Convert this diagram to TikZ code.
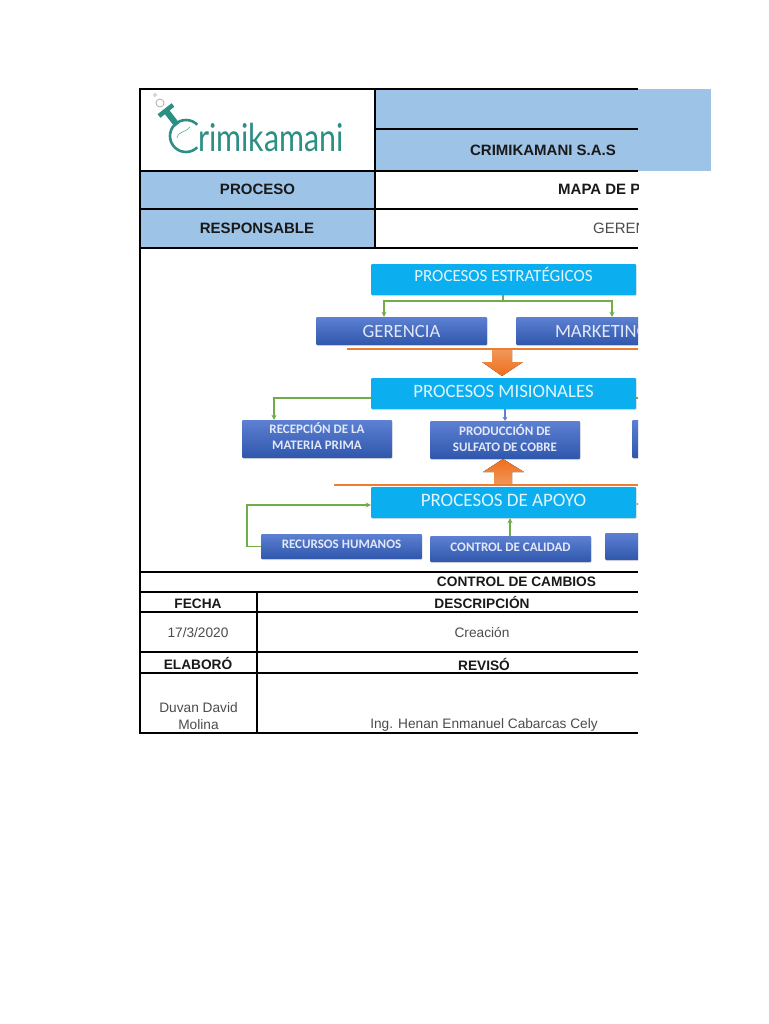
\documentclass[tikz,border=0pt]{standalone}
\usepackage{fontspec}
\setmainfont{Liberation Sans}
\newfontfamily\boxfont{Carlito}
\newfontfamily\logofont{Lato}
\usepackage{tikz}
\usetikzlibrary{arrows.meta,shadows}
\definecolor{headblue}{HTML}{9DC3E6}
\definecolor{skybox}{HTML}{0BAEEE}
\definecolor{boxtop}{HTML}{5D80D2}
\definecolor{boxbot}{HTML}{2F57AC}
\definecolor{greenline}{HTML}{70AD47}
\definecolor{orangeline}{HTML}{ED7D31}
\definecolor{orangedeep}{HTML}{EE6F1C}
\definecolor{logoteal}{HTML}{2C8F84}
\tikzset{
  cellbold/.style={font=\fontsize{13.7}{15}\selectfont\bfseries, text=black!90},
  topbold/.style={font=\fontsize{15}{17}\selectfont\bfseries, text=black!90},
  cellplain/.style={font=\fontsize{13.7}{15}\selectfont, text=black!70, align=center},
  skynode/.style={fill=skybox, text=white!88!skybox, minimum width=265pt, minimum height=31pt, inner sep=0pt, rounded corners=1pt,
    font=\boxfont\fontsize{18.8}{21}\selectfont, text height=10pt, text depth=3pt,
    drop shadow={shadow xshift=0.5pt, shadow yshift=-1pt, opacity=0.25}},
  workbox/.style={top color=boxtop, bottom color=boxbot, draw=none, text=white!82!boxtop, inner sep=0pt, align=center, rounded corners=1pt,
    font=\boxfont\fontsize{18.7}{21}\selectfont, drop shadow={shadow xshift=0.5pt, shadow yshift=-1pt, opacity=0.25}},
  smalltext/.style={font=\boxfont\bfseries\fontsize{13}{16}\selectfont, text=white!82!boxtop, align=center, inner sep=0pt},
  greenpin/.style={draw=greenline, line width=1.5pt, -{Stealth[length=5pt,width=5pt]}},
  bluepin/.style={draw=boxtop, line width=1.2pt, -{Stealth[length=4pt,width=5pt]}},
  heavy/.style={line width=2pt},
  rule/.style={line width=1.4pt},
}
\begin{document}
\begin{tikzpicture}[x=1pt, y=-1pt]
  \useasboundingbox (0,0) rectangle (768,1024);
  \fill[white] (0,0) rectangle (768,1024);
  % blue header cells
  \fill[headblue] (375,89) rectangle (711,171);
  \fill[headblue] (140,171) rectangle (375,248);
  \begin{scope}
    \clip (0,0) rectangle (638,1024);
    % diagram: strategic row
    \node[skynode, font=\boxfont\fontsize{17}{19}\selectfont, text height=9pt, text depth=5.2pt] (estrat) at (503.5,279.5) {PROCESOS ESTRATÉGICOS};
    \node[workbox, minimum width=171pt, minimum height=28pt] (gerencia) at (401.5,331) {GERENCIA};
    \node[workbox, minimum width=171pt, minimum height=28pt, text width=171pt, align=left] (marketing) at (601.5,331) {\hspace{39pt}MARKETING};
    \draw[greenpin] ([xshift=-0.5pt]estrat.south) -- ++(0,6) -| ([xshift=-17.5pt]gerencia.north);
    \draw[greenpin] ([xshift=-0.5pt]estrat.south) -- ++(0,6) -| ([xshift=10.5pt]marketing.north);
    \draw[orangeline, line width=1.8pt] (347,349) -- (638,349);
    \fill[top color=orangeline!80!white, bottom color=orangedeep] (492,350) -- (512,350) -- (512,362) -- (523,362)
      -- (502,376) -- (482,362) -- (492,362) -- cycle;
    % diagram: missional row
    \node[skynode] (misional) at (503.5,393.5) {PROCESOS MISIONALES};
    \node[workbox, minimum width=150pt, minimum height=38pt] (recepcion) at (317,439) {};
    \node[smalltext] (recepciontxt) at ([yshift=2.5pt]recepcion.center) {RECEPCIÓN DE LA\\MATERIA PRIMA};
    \node[workbox, minimum width=150pt, minimum height=38pt] (produccion) at (505,440) {};
    \node[smalltext] (producciontxt) at ([yshift=2pt]produccion.center) {PRODUCCIÓN DE\\SULFATO DE COBRE};
    \node[workbox, minimum width=150pt, minimum height=38pt] (envasado) at (707,439) {};
    \draw[greenpin] ([yshift=-4.5pt]misional.west) -| ([xshift=-43pt]recepcion.north);
    \draw[greenpin] ([yshift=-4.5pt]misional.east) -| (envasado.north);
    \draw[bluepin] ([xshift=1.5pt]misional.south) -- (produccion.north);
    % diagram: support row
    \fill[top color=orangedeep, bottom color=orangeline!80!white] (494,485) -- (512,485) -- (512,472) -- (524,472)
      -- (503,459) -- (483,472) -- (494,472) -- cycle;
    \draw[orangeline, line width=1.6pt] (334,485) -- (638,485);
    \node[skynode, font=\boxfont\fontsize{19}{21}\selectfont] (apoyo) at (503.5,502.5) {PROCESOS DE APOYO};
    \node[workbox, smalltext, minimum width=161pt, minimum height=25pt, text depth=2.8pt, text height=6pt] (recursos) at (341.5,546.5) {RECURSOS HUMANOS};
    \node[workbox, smalltext, minimum width=161pt, minimum height=26pt, text depth=1.8pt, text height=6pt] (calidad) at (510.5,549) {CONTROL DE CALIDAD};
    \node[workbox, minimum width=161pt, minimum height=27pt] (compras) at (685.5,546.5) {};
    \draw[greenpin] (recursos.west) -- ++(-14,0) |- ([yshift=-2.5pt]apoyo.west);
    \draw[greenpin] ([xshift=-0.5pt]calidad.north) -- ([xshift=6.5pt]apoyo.south);
    \draw[greenpin] (compras.north) |- ([yshift=-1.5pt]apoyo.east);
    % table rules
    \foreach \y in {89,171,209,248,612,673}{\draw[rule] (140,\y) -- (638,\y);}
    \foreach \y in {572,592,652}{\draw[heavy] (140,\y) -- (638,\y);}
    \draw[rule] (140,733) -- (638,733);
    \draw[heavy] (375,129) -- (638,129);
    \draw[heavy] (140,88) -- (140,734);
    \draw[heavy] (375,89) -- (375,248);
    \draw[heavy] (257,592) -- (257,733);
    % header texts
    \node[topbold] (empresa) at (543,150) {CRIMIKAMANI S.A.S};
    \node[topbold] (proceso) at (257.5,189) {PROCESO};
    \node[topbold] (responsable) at (257,228) {RESPONSABLE};
    \node[topbold, anchor=west, inner sep=0pt] (mapa) at (558,189) {MAPA DE PROCESOS};
    \node[cellplain, font=\fontsize{15}{17}\selectfont, anchor=west, inner sep=0pt] (gerente) at (593,228) {GERENTE};
    % change control texts
    \node[cellbold] (cambios) at (516.5,582) {CONTROL DE CAMBIOS};
    \node[cellbold] (fecha) at (198,604) {FECHA};
    \node[cellbold] (descripcion) at (482,602) {DESCRIPCIÓN};
    \node[cellplain] (dia) at (198,633) {17/3/2020};
    \node[cellplain] (creacion) at (482,633) {Creación};
    \node[cellbold] (elaboro) at (198,663) {ELABORÓ};
    \node[cellbold] (reviso) at (484,664) {REVISÓ};
    \node[cellplain, font=\fontsize{13.7}{17}\selectfont] (autor) at (198.5,716) {Duvan David\\Molina};
    \node[cellplain] (revisor) at (484,725) {Ing. Henan Enmanuel Cabarcas Cely};
  \end{scope}
  % logo
  \draw[logoteal, line width=2.6pt] (197.3,124.7) arc[start angle=45, end angle=315, radius=16pt];
  \draw[logoteal!70!white, line width=0.7pt] (177,138) .. controls (179,130) and (184,134) .. (190,127);
  \draw[logoteal, line width=4.5pt] (159,116) -- (173,105);
  \draw[logoteal, line width=6pt] (167,112) -- (177,125);
  \draw[black!35, line width=0.7pt] (160,103) circle[radius=4pt];
  \draw[black!30, line width=0.6pt] (155,95) circle[radius=1.5pt];
  \node[anchor=south west, inner sep=0pt, text=logoteal, xscale=0.95, yscale=1.2, font=\logofont\fontsize{32}{34}\selectfont] (logo) at (198,152) {rimikamani};
\end{tikzpicture}
\end{document}
